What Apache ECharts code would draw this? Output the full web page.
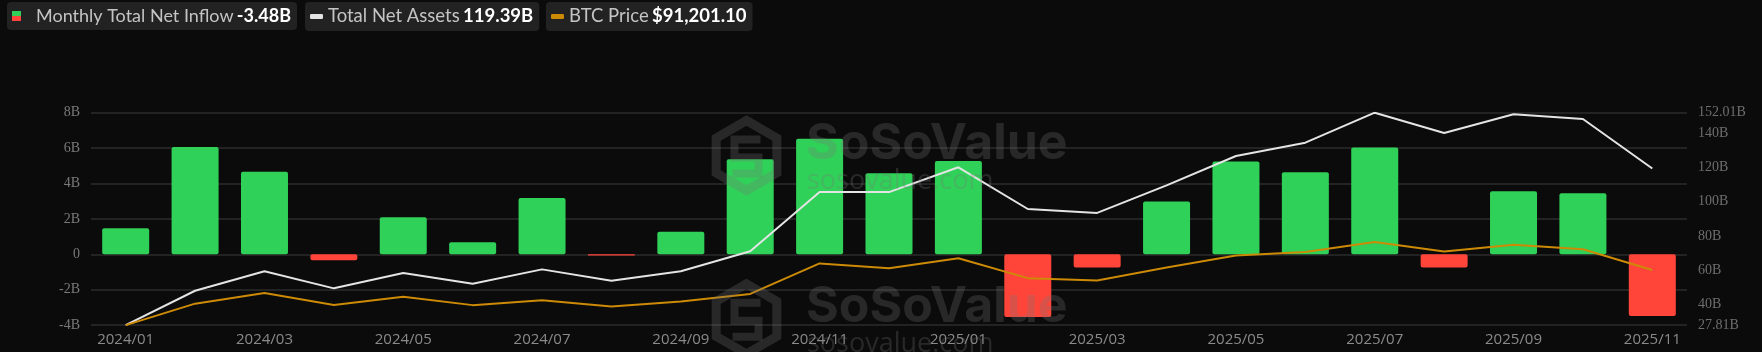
<!DOCTYPE html>
<html>
<head>
<meta charset="utf-8">
<script src="https://cdn.jsdelivr.net/npm/echarts@6/dist/echarts.min.js"></script>
<style>
html,body{margin:0;padding:0;background:#0b0b0b;}
#chart{width:1762px;height:352px;}
</style>
</head>
<body>
<div id="chart"></div>
<script>
const months = ['2024/01','2024/02','2024/03','2024/04','2024/05','2024/06','2024/07','2024/08','2024/09','2024/10','2024/11','2024/12',
  '2025/01','2025/02','2025/03','2025/04','2025/05','2025/06','2025/07','2025/08','2025/09','2025/10','2025/11'];
const netInflow = [1.47, 6.06, 4.67, -0.34, 2.09, 0.68, 3.18, -0.07, 1.28, 5.37, 6.53, 4.58,
  5.27, -3.54, -0.75, 2.99, 5.25, 4.63, 6.04, -0.75, 3.56, 3.45, -3.48];
const totalNetAssets = [27.81, 47.9, 59.3, 49.3, 58.3, 52.0, 60.4, 53.8, 59.3, 71.0, 105.6, 105.6,
  120.1, 95.7, 93.4, 109.5, 126.7, 134.5, 152.01, 140.1, 151.1, 148.3, 119.39];
const btcPrice = [42580, 61500, 71000, 60400, 67600, 60200, 64500, 58900, 63300, 70100, 97000, 92800,
  101600, 84000, 82000, 93500, 104000, 107000, 116000, 107500, 113500, 109500, 91201.10];
const leftTicks = { min: -4, max: 8, step: 2 };

const GREEN = '#30d158', RED = '#ff453a', WHITE = '#e4e4e4', ORANGE = '#cc8a06';
const last = a => a[a.length - 1];
const fmtB = v => (Math.round(v * 100) / 100) + 'B';
const fmtUsd = v => '$' + v.toLocaleString('en-US', {minimumFractionDigits: 2, maximumFractionDigits: 2});

const iconSvg = 'image://data:image/svg+xml;utf8,' + encodeURIComponent(
  '<svg xmlns="http://www.w3.org/2000/svg" width="19" height="10" viewBox="0 0 19 10">' +
  '<rect x="0" y="0" width="9" height="5" fill="' + GREEN + '"/>' +
  '<rect x="0" y="5" width="9" height="5" fill="' + RED + '"/></svg>');

function legendBase(fs) {
  return {
    orient: 'horizontal', top: 2, selectedMode: false, itemGap: 0,
    backgroundColor: '#222222', borderRadius: 4, padding: [5, 6, 5, 5],
    textStyle: {
      rich: {
        n: {color: '#c4c4c4', fontSize: fs, fontFamily: 'Lato', lineHeight: 19},
        v: {color: '#ffffff', fontSize: fs, fontFamily: 'Lato', fontWeight: 'bold', lineHeight: 19}
      }
    }
  };
}

function watermark(yOff) {
  const cx = 746.5, cy = 155.5 + yOff, r = 35;
  const hex = [];
  for (let i = 0; i < 6; i++) {
    const a = Math.PI / 180 * (60 * i - 90);
    hex.push([cx + r * Math.cos(a), cy + r * Math.sin(a)]);
  }
  const col = 'rgba(120,120,120,0.28)';
  return [
    {type: 'polygon', shape: {points: hex}, style: {fill: 'none', stroke: col, lineWidth: 9}, z: 100, silent: true},
    {type: 'polyline', shape: {points: [[cx + 14, cy - 16], [cx - 12, cy - 16], [cx - 12, cy + 2], [cx + 12, cy + 2], [cx + 12, cy + 18], [cx - 14, cy + 18]]},
      style: {fill: 'none', stroke: col, lineWidth: 8}, z: 100, silent: true},
    {type: 'text', x: 806, y: 144 + yOff, style: {text: 'SoSoValue', fill: col, font: 'bold 50px Inter', textVerticalAlign: 'middle'}, z: 100, silent: true},
    {type: 'text', x: 807, y: 168 + yOff, style: {text: 'sosovalue.com', fill: col, font: '27px "Open Sans"', textVerticalAlign: 'top'}, z: 100, silent: true}
  ];
}

const chart = echarts.init(document.getElementById('chart'), null, {renderer: 'canvas'});
chart.setOption({
  backgroundColor: '#0b0b0b',
  animation: false,
  legend: [
    Object.assign(legendBase(18), {
      left: 7, itemWidth: 19, itemHeight: 10,
      data: [{name: 'Monthly Total Net Inflow', icon: iconSvg}],
      formatter: n => '{n|' + n + '} {v|' + fmtB(last(netInflow)) + '}'
    }),
    Object.assign(legendBase(18.5), {
      left: 305, itemWidth: 13, itemHeight: 5,
      data: [{name: 'Total Net Assets', icon: 'roundRect', itemStyle: {color: WHITE}}],
      formatter: n => '{n|' + n + '} {v|' + fmtB(last(totalNetAssets)) + '}'
    }),
    Object.assign(legendBase(18.5), {
      left: 546, itemWidth: 13, itemHeight: 5,
      data: [{name: 'BTC Price', icon: 'roundRect', itemStyle: {color: ORANGE}}],
      formatter: n => '{n|' + n + '} {v|' + fmtUsd(last(btcPrice)) + '}'
    })
  ],
  grid: {left: 91, right: 75, top: 112.7, bottom: 26.9, containLabel: false},
  xAxis: {
    type: 'category', data: months, boundaryGap: true,
    axisLine: {show: false}, axisTick: {show: false},
    axisLabel: {interval: 1, color: '#8a8a8a', fontSize: 15, fontFamily: 'Open Sans', margin: 7},
    splitLine: {show: false}
  },
  yAxis: [
    {
      type: 'value', position: 'left', min: leftTicks.min, max: leftTicks.max, interval: leftTicks.step,
      axisLine: {show: false}, axisTick: {show: false},
      axisLabel: {color: '#7a7a7a', fontSize: 14, fontFamily: 'Liberation Serif', margin: 11,
        formatter: v => v === 0 ? '0' : v + 'B'},
      splitLine: {lineStyle: {color: '#2d2d2d', width: 1.5}}
    },
    {
      type: 'value', position: 'right',
      min: Math.min(...totalNetAssets), max: Math.max(...totalNetAssets),
      minInterval: 20, maxInterval: 20,
      axisLine: {show: false}, axisTick: {show: false},
      axisLabel: {color: '#6e6e6e', fontSize: 14, fontFamily: 'Liberation Serif', margin: 11,
        showMinLabel: true, showMaxLabel: true, formatter: v => fmtB(v)},
      splitLine: {show: false}
    },
    {
      type: 'value', show: false, min: Math.min(...btcPrice), max: 230000,
      splitLine: {show: false}
    }
  ],
  series: [
    {
      name: 'Monthly Total Net Inflow', type: 'bar', yAxisIndex: 0, data: netInflow, barWidth: 47,
      itemStyle: {color: p => p.value >= 0 ? GREEN : RED, borderRadius: 2}
    },
    {
      name: 'Total Net Assets', type: 'line', yAxisIndex: 1, data: totalNetAssets,
      showSymbol: false, symbol: 'none', color: WHITE, lineStyle: {color: WHITE, width: 2}, z: 3
    },
    {
      name: 'BTC Price', type: 'line', yAxisIndex: 2, data: btcPrice,
      showSymbol: false, symbol: 'none', color: ORANGE, lineStyle: {color: ORANGE, width: 2}, z: 3
    }
  ],
  graphic: [].concat(watermark(0), watermark(163.3))
});
</script>
</body>
</html>
